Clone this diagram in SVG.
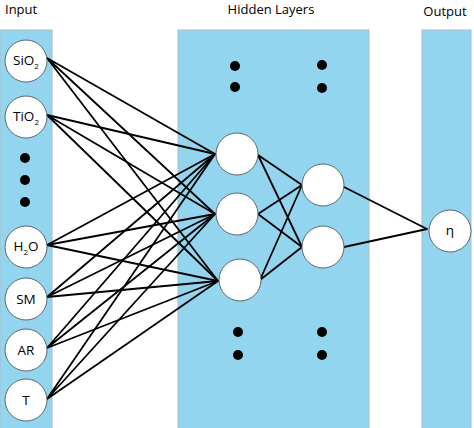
<svg xmlns="http://www.w3.org/2000/svg" width="474" height="428" viewBox="0 0 474 428">
<style>
.band{fill:#93d4ee;stroke:#a9bfcc;stroke-width:1}
.node{fill:#fff;stroke:#5d6b72;stroke-width:1}
.dot{fill:#000}
.edge{stroke:#000;stroke-width:1.8;fill:none;stroke-linecap:round}
.title{font-family:"Open Sans","Liberation Sans",sans-serif;font-size:13px;fill:#000}
.lbl{font-family:"Open Sans","Liberation Sans",sans-serif;font-size:13.5px;fill:#000;text-anchor:middle}
.sub{font-size:8px}
</style>
<rect width="474" height="428" fill="#fff"/>
<g id="bands">
<rect class="band" x="0" y="30" width="52" height="399"/>
<rect class="band" x="178" y="30" width="191" height="399"/>
<rect class="band" x="422" y="30" width="49" height="399"/>
</g>
<g id="titles">
<text class="title" x="5" y="14">Input</text>
<text class="title" x="271" y="14" text-anchor="middle">Hidden Layers</text>
<text class="title" x="445" y="16" text-anchor="middle">Output</text>
</g>
<g id="connectors">
<path class="edge" d="M47 58L215 154M47 58L215 214M47 58L218 281"/>
<path class="edge" d="M47 115L215 154M47 115L215 214M47 115L218 281"/>
<path class="edge" d="M47 245L215 154M47 245L215 214M47 245L218 281"/>
<path class="edge" d="M47 297L215 154M47 297L215 214M47 297L218 281"/>
<path class="edge" d="M47 348L215 154M47 348L215 214M47 348L218 281"/>
<path class="edge" d="M47 399L215 154M47 399L215 214M47 399L218 281"/>
<path class="edge" d="M258 155L302 185M258 155L302 247M258 214L302 185M258 214L302 247M260 280L302 185M260 280L302 247"/>
<path class="edge" d="M344 187L427 229M344 247L427 229"/>
</g>
<g id="input-dots">
<circle class="dot" cx="25" cy="158" r="5"/>
<circle class="dot" cx="25" cy="180" r="5"/>
<circle class="dot" cx="25" cy="202" r="5"/>
</g>
<g id="hidden-dots">
<circle class="dot" cx="235" cy="66" r="5"/>
<circle class="dot" cx="235" cy="87" r="5"/>
<circle class="dot" cx="322" cy="65" r="5"/>
<circle class="dot" cx="322" cy="88" r="5"/>
<circle class="dot" cx="238" cy="332" r="5"/>
<circle class="dot" cx="238" cy="355" r="5"/>
<circle class="dot" cx="322" cy="332" r="5"/>
<circle class="dot" cx="322" cy="355" r="5"/>
</g>
<g id="in-sio2"><circle class="node" cx="26" cy="61" r="21"/><text class="lbl" x="26" y="65">SiO<tspan class="sub" dy="4">2</tspan></text></g>
<g id="in-tio2"><circle class="node" cx="26" cy="117" r="21"/><text class="lbl" x="26" y="121">TiO<tspan class="sub" dy="4">2</tspan></text></g>
<g id="in-h2o"><circle class="node" cx="26" cy="247" r="21"/><text class="lbl" x="26" y="251">H<tspan class="sub" dy="4">2</tspan><tspan dy="-4">O</tspan></text></g>
<g id="in-sm"><circle class="node" cx="26" cy="299" r="21"/><text class="lbl" x="26" y="304">SM</text></g>
<g id="in-ar"><circle class="node" cx="26" cy="350" r="21"/><text class="lbl" x="26" y="355">AR</text></g>
<g id="in-t"><circle class="node" cx="26" cy="400" r="21"/><text class="lbl" x="26" y="405">T</text></g>
<g id="h1-1"><circle class="node" cx="237" cy="154" r="21"/></g>
<g id="h1-2"><circle class="node" cx="237" cy="214" r="21"/></g>
<g id="h1-3"><circle class="node" cx="240" cy="280" r="21"/></g>
<g id="h2-1"><circle class="node" cx="323" cy="185" r="21"/></g>
<g id="h2-2"><circle class="node" cx="323" cy="247" r="21"/></g>
<g id="out-eta"><circle class="node" cx="450" cy="231" r="21"/><text class="lbl" x="450" y="235">η</text></g>
</svg>
